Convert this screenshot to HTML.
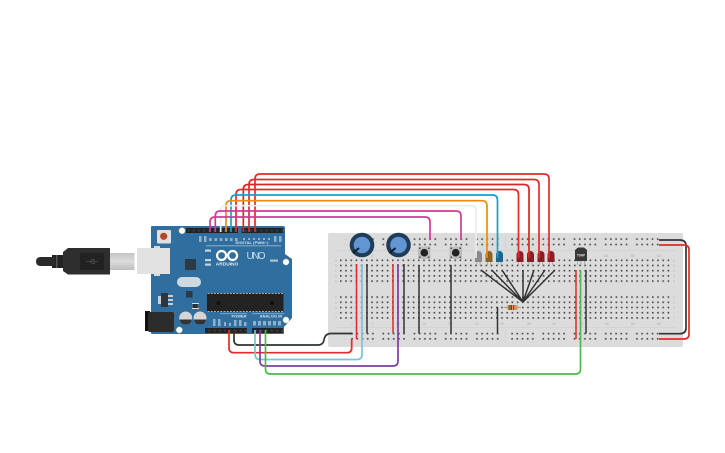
<!DOCTYPE html>
<html><head><meta charset="utf-8"><style>
html,body{margin:0;padding:0;background:#fff}
svg{display:block}
text{font-family:"Liberation Sans",sans-serif}
</style></head><body>
<svg width="725" height="453" viewBox="0 0 725 453" xmlns="http://www.w3.org/2000/svg">
<defs>
<pattern id="m1" patternUnits="userSpaceOnUse" x="338.1" y="257.6" width="5.2" height="5.2"><rect x="1.9" y="1.9" width="1.6" height="1.6" fill="#454545"/></pattern>
<pattern id="m2" patternUnits="userSpaceOnUse" x="338.1" y="294.4" width="5.2" height="5.2"><rect x="1.9" y="1.9" width="1.6" height="1.6" fill="#454545"/></pattern>
<g id="five"><rect x=".3" y="1.9" width="1.6" height="1.6"/><rect x="5.5" y="1.9" width="1.6" height="1.6"/><rect x="10.7" y="1.9" width="1.6" height="1.6"/><rect x="15.9" y="1.9" width="1.6" height="1.6"/><rect x="21.1" y="1.9" width="1.6" height="1.6"/></g>
<pattern id="r1" patternUnits="userSpaceOnUse" x="351" y="236.4" width="31.2" height="5.4"><use href="#five" fill="#454545"/></pattern>
<pattern id="r2" patternUnits="userSpaceOnUse" x="511" y="236.4" width="31.2" height="5.4"><use href="#five" fill="#454545"/></pattern>
<pattern id="r3" patternUnits="userSpaceOnUse" x="351" y="330.9" width="31.2" height="5.2"><use href="#five" fill="#454545"/></pattern>
<pattern id="r4" patternUnits="userSpaceOnUse" x="511" y="330.9" width="31.2" height="5.2"><use href="#five" fill="#454545"/></pattern>
<pattern id="hd" patternUnits="userSpaceOnUse" x="186" y="228" width="5.2" height="5"><rect width="5.2" height="5" fill="#222"/><rect x="1.6" y="1.6" width="2" height="2" fill="#3d3d3d"/></pattern>
<linearGradient id="metal" x1="0" y1="0" x2="0" y2="1"><stop offset="0" stop-color="#c4c4c4"/><stop offset=".5" stop-color="#dcdcdc"/><stop offset="1" stop-color="#bcbcbc"/></linearGradient>
</defs>

<!-- breadboard -->
<rect x="328" y="233" width="355" height="114" rx="2" fill="#dcdcdc"/>
<rect x="335" y="250" width="341" height=".7" fill="#cfcfcf"/>
<rect x="335" y="327" width="341" height=".7" fill="#cfcfcf"/>
<rect x="505" y="236" width=".7" height="14" fill="#cfcfcf"/>
<rect x="505" y="329" width=".7" height="14" fill="#cfcfcf"/>
<rect x="339" y="258" width="331" height="26" fill="url(#m1)"/>
<rect x="339" y="295" width="331" height="26" fill="url(#m2)"/>
<rect x="351" y="237" width="148" height="10" fill="url(#r1)"/>
<rect x="511" y="237" width="148" height="10" fill="url(#r2)"/>
<rect x="351" y="332" width="148" height="9" fill="url(#r3)"/>
<rect x="511" y="332" width="148" height="9" fill="url(#r4)"/>
<g font-size="4" fill="#b4b4b4" text-anchor="middle">
<text x="352" y="325">1</text><text x="372.500" y="325">5</text><text x="398" y="325">10</text><text x="424" y="325">15</text><text x="450" y="325">20</text><text x="476.700" y="325">25</text><text x="502" y="325">30</text><text x="529" y="325">35</text><text x="554" y="325">40</text><text x="581" y="325">45</text><text x="607" y="325">50</text><text x="633" y="325">55</text><text x="659" y="325">60</text>
<text x="606" y="257">50</text><text x="633" y="257">55</text><text x="659" y="257">60</text>
<text x="372.500" y="257">5</text><text x="352" y="257">1</text>
</g>
<g font-size="3.500" fill="#bcbcbc" text-anchor="middle">
<text x="336" y="262">A</text><text x="336" y="267">B</text><text x="336" y="272">C</text><text x="336" y="277.500">D</text><text x="336" y="282.500">E</text>
<text x="336" y="298.500">F</text><text x="336" y="304">G</text><text x="336" y="309">H</text><text x="336" y="314">I</text><text x="336" y="319">J</text>
<text x="674" y="262">A</text><text x="674" y="267">B</text><text x="674" y="272">C</text><text x="674" y="277.500">D</text><text x="674" y="282.500">E</text>
<text x="674" y="298.500">F</text><text x="674" y="304">G</text><text x="674" y="309">H</text><text x="674" y="314">I</text><text x="674" y="319">J</text>
</g>
<rect x="343.500" y="239" width="3" height="1.200" fill="#c4d0e2"/><rect x="343.500" y="244.500" width="3" height="1.200" fill="#eac8c8"/>
<rect x="343.500" y="333" width="3" height="1.200" fill="#c4d0e2"/><rect x="343.500" y="338.500" width="3" height="1.200" fill="#eac8c8"/>

<!-- arduino -->
<path d="M151 227q0-1 1-1H283q2 0 2 2V254L292 259V318L284 327V333q0 1-1 1H152q-1 0-1-1Z" fill="#2f6e9e"/>
<rect x="186" y="228" width="52" height="5" fill="url(#hd)"/>
<rect x="241.600" y="228" width="41.600" height="5" fill="url(#hd)"/>
<rect x="205" y="328" width="42" height="5" fill="url(#hd)"/>
<rect x="252" y="328" width="31" height="5" fill="url(#hd)"/>
<circle cx="182" cy="230.700" r="3" fill="#fff" stroke="#e8e0a8" stroke-width=".5"/>
<circle cx="286" cy="262" r="3" fill="#fff" stroke="#e8e0a8" stroke-width=".5"/>
<circle cx="286" cy="320" r="3" fill="#fff" stroke="#e8e0a8" stroke-width=".5"/>
<circle cx="179.300" cy="330" r="3" fill="#fff" stroke="#e8e0a8" stroke-width=".5"/>
<rect x="157" y="230" width="14" height="13.500" rx="1" fill="#e0e0e0"/>
<circle cx="163.700" cy="236.300" r="3.600" fill="#b5472a"/>
<!-- USB -->
<rect x="110" y="253" width="24.500" height="17" fill="url(#metal)"/>
<rect x="137" y="248" width="33" height="26" fill="#e2e2e2"/>
<rect x="154" y="246" width="6" height="2" fill="#d8d8d8"/><rect x="154" y="274" width="6" height="2" fill="#d8d8d8"/>
<path d="M110 248H68L63 252V271L68 274.500H110Z" fill="#2e2e2e"/>
<rect x="80" y="253" width="24" height="17" fill="#222"/>
<path d="M63 255H52V268H63Z" fill="#222"/>
<rect x="56" y="255" width="1.400" height="13" fill="#555"/>
<path d="M55 257H41Q36 257 36 261.500T41 266H55Z" fill="#2a2a2a"/>
<path d="M86 261.500H98M94 259.500V263.500M90 261.500L92 259.500H95M90 261.500L92 263.500H95" stroke="#4d4d4d" stroke-width=".8" fill="none"/>
<!-- parts -->
<rect x="185" y="259" width="11" height="11" fill="#2b3a45"/>
<rect x="177" y="277" width="24" height="10" rx="5" fill="#cfd9e0"/>
<rect x="186" y="291" width="6.500" height="6.500" fill="#263a48"/>
<rect x="207" y="293" width="76.500" height="19" fill="#232323"/>
<path d="M207.500 293.500H283M207.500 311.500H283" stroke="#ddd" stroke-width=".7" stroke-dasharray="2 1.200"/>
<circle cx="218.500" cy="303" r="2" fill="#111"/><circle cx="272" cy="303" r="2" fill="#111"/>
<rect x="145" y="311" width="5" height="20" fill="#111"/>
<rect x="148" y="312" width="26" height="20" rx="2" fill="#2c2c2c"/>
<rect x="158" y="296" width="3" height="8" fill="#cfcfcf"/>
<rect x="161" y="293" width="7" height="14" fill="#2a3640"/>
<rect x="168" y="295" width="5" height="2" fill="#ccc"/><rect x="168" y="299" width="5" height="2" fill="#ccc"/><rect x="168" y="303" width="5" height="2" fill="#ccc"/>
<rect x="193" y="303" width="4.500" height="6" fill="#20303c"/>
<rect x="192" y="303" width="7" height="1" fill="#ddd"/><rect x="192" y="308" width="7" height="1" fill="#ddd"/>
<circle cx="185.700" cy="318" r="6.500" fill="#d5d5d5"/><path d="M179.500 319.500H192Q191 324.500 185.700 324.500T179.500 319.500Z" fill="#333"/>
<circle cx="200" cy="318" r="6.500" fill="#d5d5d5"/><path d="M193.800 319.500H206.300Q205.300 324.500 200 324.500T193.800 319.500Z" fill="#333"/>
<rect x="205" y="249.500" width="6" height="2.200" fill="#c4d6e2"/>
<rect x="205" y="259" width="6" height="2.200" fill="#c4d6e2"/>
<rect x="205" y="263.500" width="6" height="2.200" fill="#c4d6e2"/>
<rect x="270" y="259.500" width="8" height="2.200" fill="#a9c3d6"/>
<rect x="206" y="245.500" width="75" height=".7" fill="#b6cfdf"/>
<rect x="220" y="313.500" width="27" height=".6" fill="#b6cfdf"/>
<rect x="252" y="313.500" width="32" height=".6" fill="#b6cfdf"/>
<g fill="none" stroke="#fff" stroke-width="2.200"><circle cx="221.600" cy="255.500" r="4.500"/><circle cx="232.600" cy="255.500" r="4.500"/></g>
<text x="227" y="265.300" font-size="4.800" font-weight="bold" fill="#e6eff5" text-anchor="middle">ARDUINO</text>
<text x="246.500" y="259" font-size="10" fill="#c8dcea" textLength="19">UNO</text>
<text x="252" y="244" font-size="4" font-weight="bold" fill="#d6e4ee" text-anchor="middle" textLength="33">DIGITAL (PWM~)</text>
<text x="239" y="317.500" font-size="4" font-weight="bold" fill="#d6e4ee" text-anchor="middle">POWER</text>
<text x="271" y="317.500" font-size="4" font-weight="bold" fill="#d6e4ee" text-anchor="middle">ANALOG IN</text>
<g fill="#8fb2ca">
<rect x="199" y="236" width="2.500" height="6"/><rect x="204" y="236" width="2.500" height="6"/>
<rect x="209" y="238" width="2.600" height="3"/><rect x="214.500" y="238" width="2.600" height="3"/><rect x="219.700" y="238" width="2.600" height="3"/><rect x="225" y="238" width="2.600" height="3"/><rect x="230" y="238" width="2.600" height="3"/><rect x="235" y="238" width="2.600" height="3"/>
<rect x="243" y="238" width="2" height="2"/><rect x="248" y="238" width="2" height="2"/><rect x="253" y="238" width="2" height="2"/><rect x="258" y="238" width="2" height="2"/><rect x="263" y="238" width="2" height="2"/><rect x="268" y="238" width="2" height="2"/>
<rect x="274" y="236" width="2.500" height="6"/><rect x="279" y="236" width="2.500" height="6"/>
<rect x="213" y="319" width="2.500" height="7"/><rect x="218" y="319" width="2.500" height="7"/><rect x="224" y="322" width="2" height="4"/><rect x="229" y="323" width="2" height="3"/><rect x="234" y="320" width="2.500" height="6"/><rect x="239" y="320" width="2.500" height="6"/><rect x="244" y="322" width="2.500" height="4"/>
<rect x="253" y="321" width="3" height="4.500"/><rect x="258" y="321" width="3" height="4.500"/><rect x="263" y="321" width="3" height="4.500"/><rect x="268" y="321" width="3" height="4.500"/><rect x="273" y="321" width="3" height="4.500"/><rect x="278" y="321" width="3" height="4.500"/>
</g>

<!-- pots -->
<g>
<circle cx="362" cy="245" r="12.300" fill="#1f3c58"/><circle cx="362" cy="245" r="8.300" fill="#6196d2"/>
<path d="M353 253L359 248" stroke="#111c28" stroke-width="2"/>
<circle cx="398.500" cy="245" r="12.300" fill="#1f3c58"/><circle cx="398.500" cy="245" r="8.300" fill="#6196d2"/>
<path d="M389.500 253L395.500 248" stroke="#111c28" stroke-width="2"/>
</g>
<!-- buttons -->
<rect x="418" y="246.500" width="12.500" height="12.500" fill="#bdbdbd"/><circle cx="424.300" cy="252.700" r="3.800" fill="#222"/>
<path d="M419 247.500h1.500v1.500H419ZM428 247.500h1.500v1.500H428ZM419 256.500h1.500v1.500H419ZM428 256.500h1.500v1.500H428Z" fill="#555"/>
<rect x="449.500" y="246.500" width="12.500" height="12.500" fill="#bdbdbd"/><circle cx="455.700" cy="252.700" r="3.800" fill="#222"/>
<path d="M450.500 247.500h1.500v1.500H450.500ZM459.500 247.500h1.500v1.500H459.500ZM450.500 256.500h1.500v1.500H450.500ZM459.500 256.500h1.500v1.500H459.500Z" fill="#555"/>
<!-- leds -->
<g stroke="#a0a0a0" stroke-width=".7"><path d="M477 262v3M480 262v3M487.500 262v3M490.500 262v3M498 262v3M501 262v3M518.500 262v3M521.500 262v3M529 262v3M532 262v3M539.500 262v3M542.500 262v3M549.500 262v3M552.500 262v3"/></g>
<path d="M475 262v-7.500a3.500 3.500 0 0 1 7 0V262Z" fill="#8a8a8a"/>
<path d="M485.500 262v-7.500a3.500 3.500 0 0 1 7 0V262Z" fill="#8c6420"/>
<path d="M496 262v-7.500a3.500 3.500 0 0 1 7 0V262Z" fill="#1c6390"/>
<path d="M516.500 262v-7.500a3.500 3.500 0 0 1 7 0V262Z" fill="#8a2026"/>
<path d="M527 262v-7.500a3.500 3.500 0 0 1 7 0V262Z" fill="#8a2026"/>
<path d="M537.500 262v-7.500a3.500 3.500 0 0 1 7 0V262Z" fill="#8a2026"/>
<path d="M547.500 262v-7.500a3.500 3.500 0 0 1 7 0V262Z" fill="#8a2026"/>
<!-- TMP -->
<path d="M575 261V250L578 247.500H584L587 250V261Z" fill="#383838"/>
<text x="581" y="256.500" font-size="4" font-weight="bold" fill="#ddd" text-anchor="middle">TMP</text>
<path d="M577.500 261v4M581 261v4M584.500 261v4" stroke="#999" stroke-width=".7"/>
<!-- resistor -->
<path d="M504 307.500H521" stroke="#999" stroke-width=".8"/>
<rect x="507" y="305" width="11" height="5" rx="2" fill="#dbb06a"/>
<rect x="508.500" y="305" width="1.200" height="5" fill="#7a4a1a"/><rect x="510.500" y="305" width="1.200" height="5" fill="#222"/><rect x="512.800" y="305" width="1.500" height="5" fill="#e01f1f"/><rect x="515.500" y="305" width="1" height="5" fill="#b08a3a"/>

<!-- breadboard jumpers -->
<g fill="none" stroke-width="1.500">
<path d="M356.500 264V339" stroke="#e02a2a"/>
<path d="M367 264V333.500" stroke="#333"/>
<path d="M393 264V333.500" stroke="#e02a2a"/>
<path d="M404 264V333.500" stroke="#333"/>
<path d="M419 265V333.500" stroke="#333"/>
<path d="M451 265V333.500" stroke="#333"/>
<path d="M497.500 307V334" stroke="#333"/>
<path d="M576 270V339" stroke="#e02a2a"/>
<path d="M586 270V333.500" stroke="#333"/>
<path d="M481 270L523 302M491.700 270L523 302M502 270L523 302M523 270V302M534 270L523 302M545 270L523 302M555 270L523 302" stroke="#333"/>
</g>

<!-- long wires -->
<g fill="none" stroke-width="1.700">
<path d="M255 232V179Q255 174 260 174H544Q549 174 549 179V258" stroke="#e42a2a"/>
<path d="M249 232V184.500Q249 179.500 254 179.500H534Q539 179.500 539 184.500V258" stroke="#e42a2a"/>
<path d="M243.300 232V189.500Q243.300 184.500 248.300 184.500H524Q529 184.500 529 189.500V258" stroke="#d92626"/>
<path d="M236 232V194.500Q236 189.500 241 189.500H513.500Q518.500 189.500 518.500 194.500V258" stroke="#e42a2a"/>
<path d="M231 232V200Q231 195 236 195H492.500Q497.500 195 497.500 200V258" stroke="#1a9dcf"/>
<path d="M226 232V205.700Q226 200.700 231 200.700H482Q487 200.700 487 205.700V258" stroke="#ee8a12"/>
<path d="M220.700 232V210.700Q220.700 205.700 225.700 205.700H471Q476 205.700 476 210.700V258" stroke="#ececec"/>
<path d="M215.300 232V216Q215.300 211 220.300 211H456Q461 211 461 216V240" stroke="#d03a98"/>
<path d="M210 232V222Q210 217 215 217H425Q430 217 430 222V240" stroke="#d03a98"/>
<path d="M229 330V348Q229 352.700 234 352.700H347Q351.700 352.700 351.700 348V339" stroke="#e42a2a"/>
<path d="M234 330V340Q234 345 239 345H318Q323 345 324 340Q325 333.500 331 333.500H352" stroke="#333"/>
<path d="M255 330V354Q255 359.500 260 359.500H357Q362 359.500 362 354.500V264" stroke="#74c7d2"/>
<path d="M260 330V361Q260 366 265 366H393Q398 366 398 361V264" stroke="#7d3f9e"/>
<path d="M265.500 330V369Q265.500 374 270.500 374H575.500Q580.500 374 580.500 369V270" stroke="#4db84f"/>
<path d="M659 240H680Q686 240 686 246V328Q686 333.700 680 333.700H659" stroke="#333"/>
<path d="M659 245H684Q689 245 689 250V334Q689 339 684 339H659" stroke="#e42a2a"/>
</g>
</svg>
</body></html>
